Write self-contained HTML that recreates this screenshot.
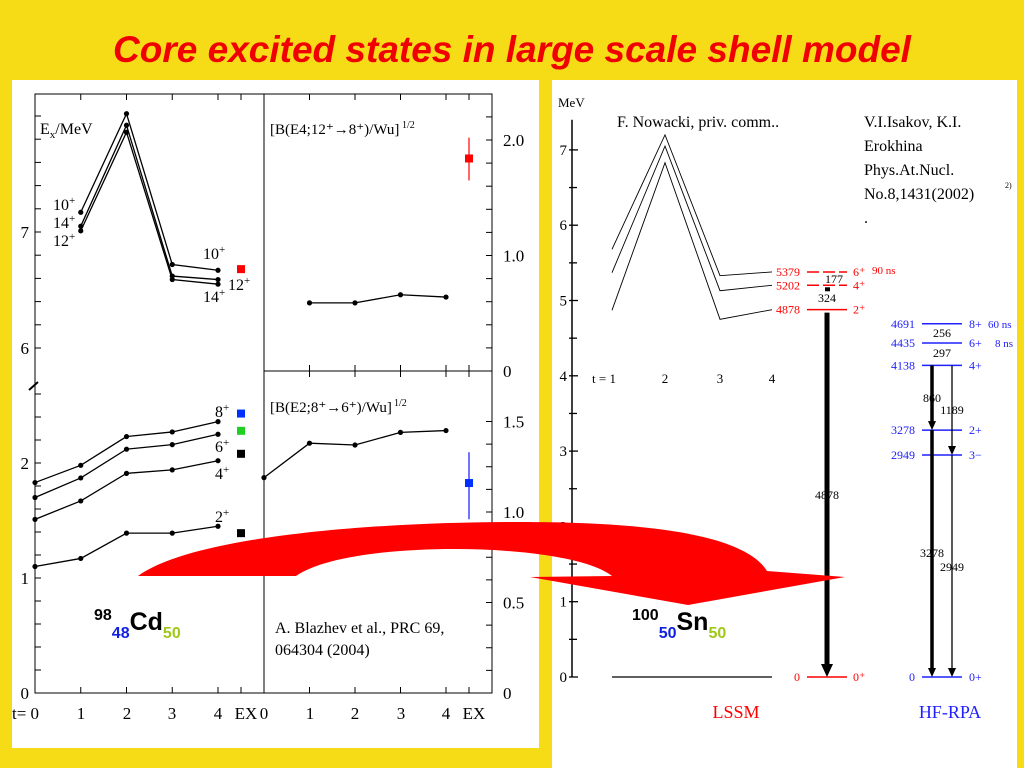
<!DOCTYPE html>
<html><head><meta charset="utf-8"><style>
html,body{margin:0;padding:0;background:#f6dc17;}
svg{display:block;}
text{font-family:"Liberation Serif",serif;}
</style></head><body>
<svg id="s" width="1024" height="768" viewBox="0 0 1024 768" xmlns="http://www.w3.org/2000/svg">
<rect x="0" y="0" width="1024" height="768" fill="#f6dc17"/>
<text x="512" y="62" text-anchor="middle" fill="#f00000" font-size="37" font-weight="bold" font-style="italic" style="font-family:'Liberation Sans',sans-serif">Core excited states in large scale shell model</text>
<rect x="12" y="80" width="527" height="668" fill="#fff"/>
<rect x="552" y="80" width="465" height="688" fill="#fff"/>
<g id="g"></g>
</svg>
<script>
// ---- left chart data (98Cd) ----
const tCats=['0','1','2','3','4'];
const e10=[null,7.17,8.02,6.72,6.67];
const e14=[null,7.05,7.92,6.62,6.59];
const e12=[null,7.01,7.86,6.59,6.55];
const exHigh=6.68;
const e8=[1.83,1.98,2.23,2.27,2.36];
const e6=[1.70,1.87,2.12,2.16,2.25];
const e4=[1.51,1.67,1.91,1.94,2.02];
const e2=[1.10,1.17,1.39,1.39,1.45];
const exLow=[2.43,2.28,2.08,1.39];
const be4=[null,0.59,0.59,0.66,0.64];
const be4Ex=[1.84,1.65,2.02];
const be2=[1.19,1.38,1.37,1.44,1.45];
const be2Ex=[1.16,0.96,1.33];
// ---- right chart data (100Sn) ----
const lssmTop=[5.68,7.2,5.33,5.379];
const lssmMid=[5.37,7.05,5.13,5.202];
const lssmBot=[4.87,6.83,4.75,4.878];
const lssmLevels=[5379,5202,4878,0];
const lssmSpins=['6','4','2','0'];
const hfLevels=[4691,4435,4138,3278,2949,0];
const hfSpins=['8+','6+','4+','2+','3−','0+'];

const NS='http://www.w3.org/2000/svg';
const G=document.getElementById('g');
function el(tag,attrs,txt){const e=document.createElementNS(NS,tag);for(const k in attrs)e.setAttribute(k,attrs[k]);if(txt!==undefined)e.textContent=txt;G.appendChild(e);return e;}
const xL=i=>35+i*45.75; const xLex=241;
const xR=i=>264+i*45.5; const xRex=469;
const yUp=v=>232-(v-7)*116;
const yLo=v=>693-v*115;
const yRU=v=>371-v*115.5;
const yRL=v=>693-v*181;
const yS=v=>677-v*75.3;
const sw={stroke:'#000','stroke-width':1,fill:'none'};
let e=el('rect',{x:35,y:94,width:457,height:599,...sw});

e=el('line',{x1:264,y1:94,x2:264,y2:693,...sw});

e=el('line',{x1:264,y1:371,x2:492,y2:371,...sw});

for(let i=0;i<5;i++){[xL(i),xR(i)].forEach(x=>{el('line',{x1:x,y1:94,x2:x,y2:100,...sw});el('line',{x1:x,y1:693,x2:x,y2:687,...sw});el('line',{x1:x,y1:371,x2:x,y2:365,...sw}).setAttribute('opacity',x>264?1:0);el('line',{x1:x,y1:371,x2:x,y2:377,...sw}).setAttribute('opacity',x>264?1:0);});}
[xLex,xRex].forEach(x=>{el('line',{x1:x,y1:94,x2:x,y2:100,...sw});el('line',{x1:x,y1:693,x2:x,y2:687,...sw});});
el('line',{x1:xRex,y1:371,x2:xRex,y2:365,...sw});el('line',{x1:xRex,y1:371,x2:xRex,y2:377,...sw});
const xl=[['t= 0',12],['1',81],['2',127],['3',172],['4',218],['EX',246],['0',264],['1',310],['2',355],['3',401],['4',446],['EX',474]];
xl.forEach(([t,x],i)=>{e=el('text',{x:x,y:719,'font-size':17,'text-anchor':i==0?'start':'middle'},t);});
for(let v=6;v<=8.01;v+=0.2){const y=yUp(v);if(y>94)el('line',{x1:35,y1:y,x2:41,y2:y,...sw});}
for(let v=0;v<=2.61;v+=0.2){const y=yLo(v);if(y>390)el('line',{x1:35,y1:y,x2:41,y2:y,...sw});}
el('line',{x1:29,y1:390,x2:38,y2:382,stroke:'#000','stroke-width':2});
[[7,yUp(7)],[6,yUp(6)],[2,yLo(2)],[1,yLo(1)],[0,yLo(0)]].forEach(([t,y])=>{e=el('text',{x:29,y:y+6,'font-size':17,'text-anchor':'end'},t);});
for(let v=0;v<=2.21;v+=0.2){const y=yRU(v);if(y>94)el('line',{x1:492,y1:y,x2:486,y2:y,...sw});}
for(let v=0;v<=1.61;v+=0.125){const y=yRL(v);if(y>371)el('line',{x1:492,y1:y,x2:486,y2:y,...sw});}
[['2.0',yRU(2)],['1.0',yRU(1)],['0',yRU(0)],['1.5',yRL(1.5)],['1.0',yRL(1)],['0.5',yRL(0.5)],['0',yRL(0)]].forEach(([t,y])=>{e=el('text',{x:503,y:y+6,'font-size':17},t);});
function series(arr,xf,yf,name){const pts=[];arr.forEach((v,i)=>{if(v!==null)pts.push([xf(i),yf(v)]);});
 let p=el('polyline',{points:pts.map(q=>q.join(',')).join(' '),...sw,'stroke-width':1.3});
 
 pts.forEach(q=>{let c=el('circle',{cx:q[0],cy:q[1],r:2.6,fill:'#000'});});}
series(e10,xL,yUp,'series-10plus');series(e14,xL,yUp,'series-14plus');series(e12,xL,yUp,'series-12plus');
series(e8,xL,yLo,'series-8plus');series(e6,xL,yLo,'series-6plus');series(e4,xL,yLo,'series-4plus');series(e2,xL,yLo,'series-2plus');
series(be4,xR,yRU,'series-be4');series(be2,xR,yRL,'series-be2');
function sq(x,y,c,n){let r=el('rect',{x:x-4,y:y-4,width:8,height:8,fill:c});}
sq(xLex,yUp(exHigh),'#f00','exp-12plus');
const exCols=['#0030ff','#20d020','#000','#000'];
exLow.forEach((v,i)=>sq(xLex,yLo(v),exCols[i],'exp-low-'+i));
el('line',{x1:xRex,y1:yRU(be4Ex[1]),x2:xRex,y2:yRU(be4Ex[2]),stroke:'#f33','stroke-width':1.5});
sq(xRex,yRU(be4Ex[0]),'#f00','exp-be4');
el('line',{x1:xRex,y1:yRL(be2Ex[1]),x2:xRex,y2:yRL(be2Ex[2]),stroke:'#44f','stroke-width':1.5});
sq(xRex,yRL(be2Ex[0]),'#0030ff','exp-be2');
function lab(x,y,t,sup,n,sz){let tx=el('text',{x:x,y:y,'font-size':sz||16});tx.textContent=t;if(sup){let s=document.createElementNS(NS,'tspan');s.setAttribute('dy','-6');s.setAttribute('font-size','11');s.textContent=sup;tx.appendChild(s);}return tx;}
lab(53,210,'10','+','label-10plus');lab(53,228,'14','+','label-14plus');lab(53,246,'12','+','label-12plus');
lab(203,259,'10','+','label-10plus-right');lab(228,290,'12','+','label-12plus-right');lab(203,302,'14','+','label-14plus-right');
lab(215,417,'8','+','label-8plus');lab(215,452,'6','+','label-6plus');lab(215,479,'4','+','label-4plus');lab(215,522,'2','+','label-2plus');
let t1=lab(40,134,'E','','ex-mev-label');let ts=document.createElementNS(NS,'tspan');ts.setAttribute('font-size','11');ts.setAttribute('dy','4');ts.textContent='x';t1.appendChild(ts);ts=document.createElementNS(NS,'tspan');ts.setAttribute('dy','-4');ts.textContent='/MeV';t1.appendChild(ts);
e=el('text',{x:270,y:134,'font-size':15},'[B(E4;12⁺→8⁺)/Wu]');
e=el('text',{x:402,y:128,'font-size':10},'1/2');
e=el('text',{x:270,y:412,'font-size':15},'[B(E2;8⁺→6⁺)/Wu]');
e=el('text',{x:394,y:406,'font-size':10},'1/2');
e=el('text',{x:275,y:633,'font-size':16},'A. Blazhev et al., PRC 69,');
e=el('text',{x:275,y:655,'font-size':16},'064304 (2004)');
// ---- right diagram ----
e=el('line',{x1:572,y1:yS(7.4),x2:572,y2:yS(0),stroke:'#000','stroke-width':1.5});
for(let v=0;v<=7.01;v+=0.5){const y=yS(v);el('line',{x1:569,y1:y,x2:(v%1==0)?578:577,y2:y,stroke:'#000','stroke-width':1.3});if(v%1==0){e=el('text',{x:567,y:y+5,'font-size':15,'text-anchor':'end'},String(v));}}
e=el('text',{x:558,y:107,'font-size':13},'MeV');
const xT=[612,665,720,772];
[lssmTop,lssmMid,lssmBot].forEach((arr,k)=>{let p=el('polyline',{points:arr.map((v,i)=>xT[i]+','+yS(v)).join(' '),stroke:'#000','stroke-width':0.9,fill:'none'});});
e=el('line',{x1:612,y1:yS(0),x2:772,y2:yS(0),stroke:'#000','stroke-width':1.3});
['t = 1','2','3','4'].forEach((t,i)=>{e=el('text',{x:i==0?592:xT[i],y:yS(4)+7,'font-size':13,'text-anchor':i==0?'start':'middle'},t);});
lssmLevels.forEach((v,i)=>{const y=yS(v/1000);let l=el('line',{x1:807,y1:y,x2:847,y2:y,stroke:'#f00','stroke-width':1.5,'stroke-dasharray':i<2?'12,4':'none'});
 e=el('text',{x:800,y:y+4,'font-size':12,fill:'#f00','text-anchor':'end'},String(v));
 e=el('text',{x:853,y:y+4,'font-size':12,fill:'#f00'},lssmSpins[i]+'⁺');});
e=el('text',{x:872,y:274,'font-size':11,fill:'#f00'},'90 ns');
e=el('line',{x1:827,y1:yS(4.878)+3,x2:827,y2:yS(0)-12,stroke:'#000','stroke-width':5});
el('polygon',{points:`821,${yS(0)-13} 833,${yS(0)-13} 827,${yS(0)}`,fill:'#000'});
el('rect',{x:825,y:yS(5.202)+2,width:5,height:4,fill:'#000'});
e=el('text',{x:827,y:499,'font-size':12,'text-anchor':'middle'},'4878');
e=el('text',{x:834,y:283,'font-size':12,'text-anchor':'middle'},'177');
e=el('text',{x:827,y:302,'font-size':12,'text-anchor':'middle'},'324');
hfLevels.forEach((v,i)=>{const y=yS(v/1000);let l=el('line',{x1:922,y1:y,x2:962,y2:y,stroke:'#2020ff','stroke-width':1.5});
 e=el('text',{x:915,y:y+4,'font-size':12,fill:'#2020ff','text-anchor':'end'},String(v));
 e=el('text',{x:969,y:y+4,'font-size':12,fill:'#2020ff'},hfSpins[i]);});
e=el('text',{x:988,y:328,'font-size':11,fill:'#2020ff'},'60 ns');
e=el('text',{x:995,y:347,'font-size':11,fill:'#2020ff'},'8 ns');
function arr(x,v1,v2,w,n){const y1=yS(v1),y2=yS(v2);e=el('line',{x1:x,y1:y1,x2:x,y2:y2-8,stroke:'#000','stroke-width':w});el('polygon',{points:`${x-4},${y2-9} ${x+4},${y2-9} ${x},${y2}`,fill:'#000'});}
arr(932,4.138,3.278,3.5,'hf-860-arrow');arr(932,3.278,0,3.5,'hf-3278-arrow');arr(952,4.138,2.949,1.3,'hf-1189-arrow');arr(952,2.949,0,1.3,'hf-2949-arrow');
[[942,337,'256'],[942,357,'297'],[932,402,'860'],[952,414,'1189'],[932,557,'3278'],[952,571,'2949']].forEach(([x,y,t])=>{e=el('text',{x:x,y:y,'font-size':12,'text-anchor':'middle'},t);});
e=el('text',{x:617,y:127,'font-size':16},'F. Nowacki, priv. comm..');
['V.I.Isakov, K.I.','Erokhina','Phys.At.Nucl.','No.8,1431(2002)','.'].forEach((t,i)=>{e=el('text',{x:864,y:127+i*24,'font-size':16},t);});
e=el('text',{x:1005,y:188,'font-size':8},'2)');
e=el('text',{x:736,y:718,'font-size':18,fill:'#f00','text-anchor':'middle'},'LSSM');
e=el('text',{x:950,y:718,'font-size':18,fill:'#2020ff','text-anchor':'middle'},'HF-RPA');
e=el('path',{d:'M138,576 C190,538 360,522 520,522 C650,522 745,535 767,571 L845,577 L688,605 L530,577 L612,576 C590,558 520,549 455,549 C385,549 322,558 296,576 Z',fill:'#f00'});

function nuc(x,a,z,sym,n,name){let t=el('text',{x:x,y:620,'font-weight':'bold',style:"font-family:'Liberation Sans',sans-serif"});
 const parts=[[a,'#000',16,620],[z,'#1020e0',16,638],[sym,'#000',25,630],[n,'#a0c818',16,638]];
 parts.forEach(([s,c,f,y])=>{let sp=document.createElementNS(NS,'tspan');sp.setAttribute('fill',c);sp.setAttribute('font-size',f);sp.setAttribute('y',y);sp.textContent=s;t.appendChild(sp);});}
nuc(94,'98','48','Cd','50','cd98-label');
nuc(632,'100','50','Sn','50','sn100-label');
</script>
</body></html>
